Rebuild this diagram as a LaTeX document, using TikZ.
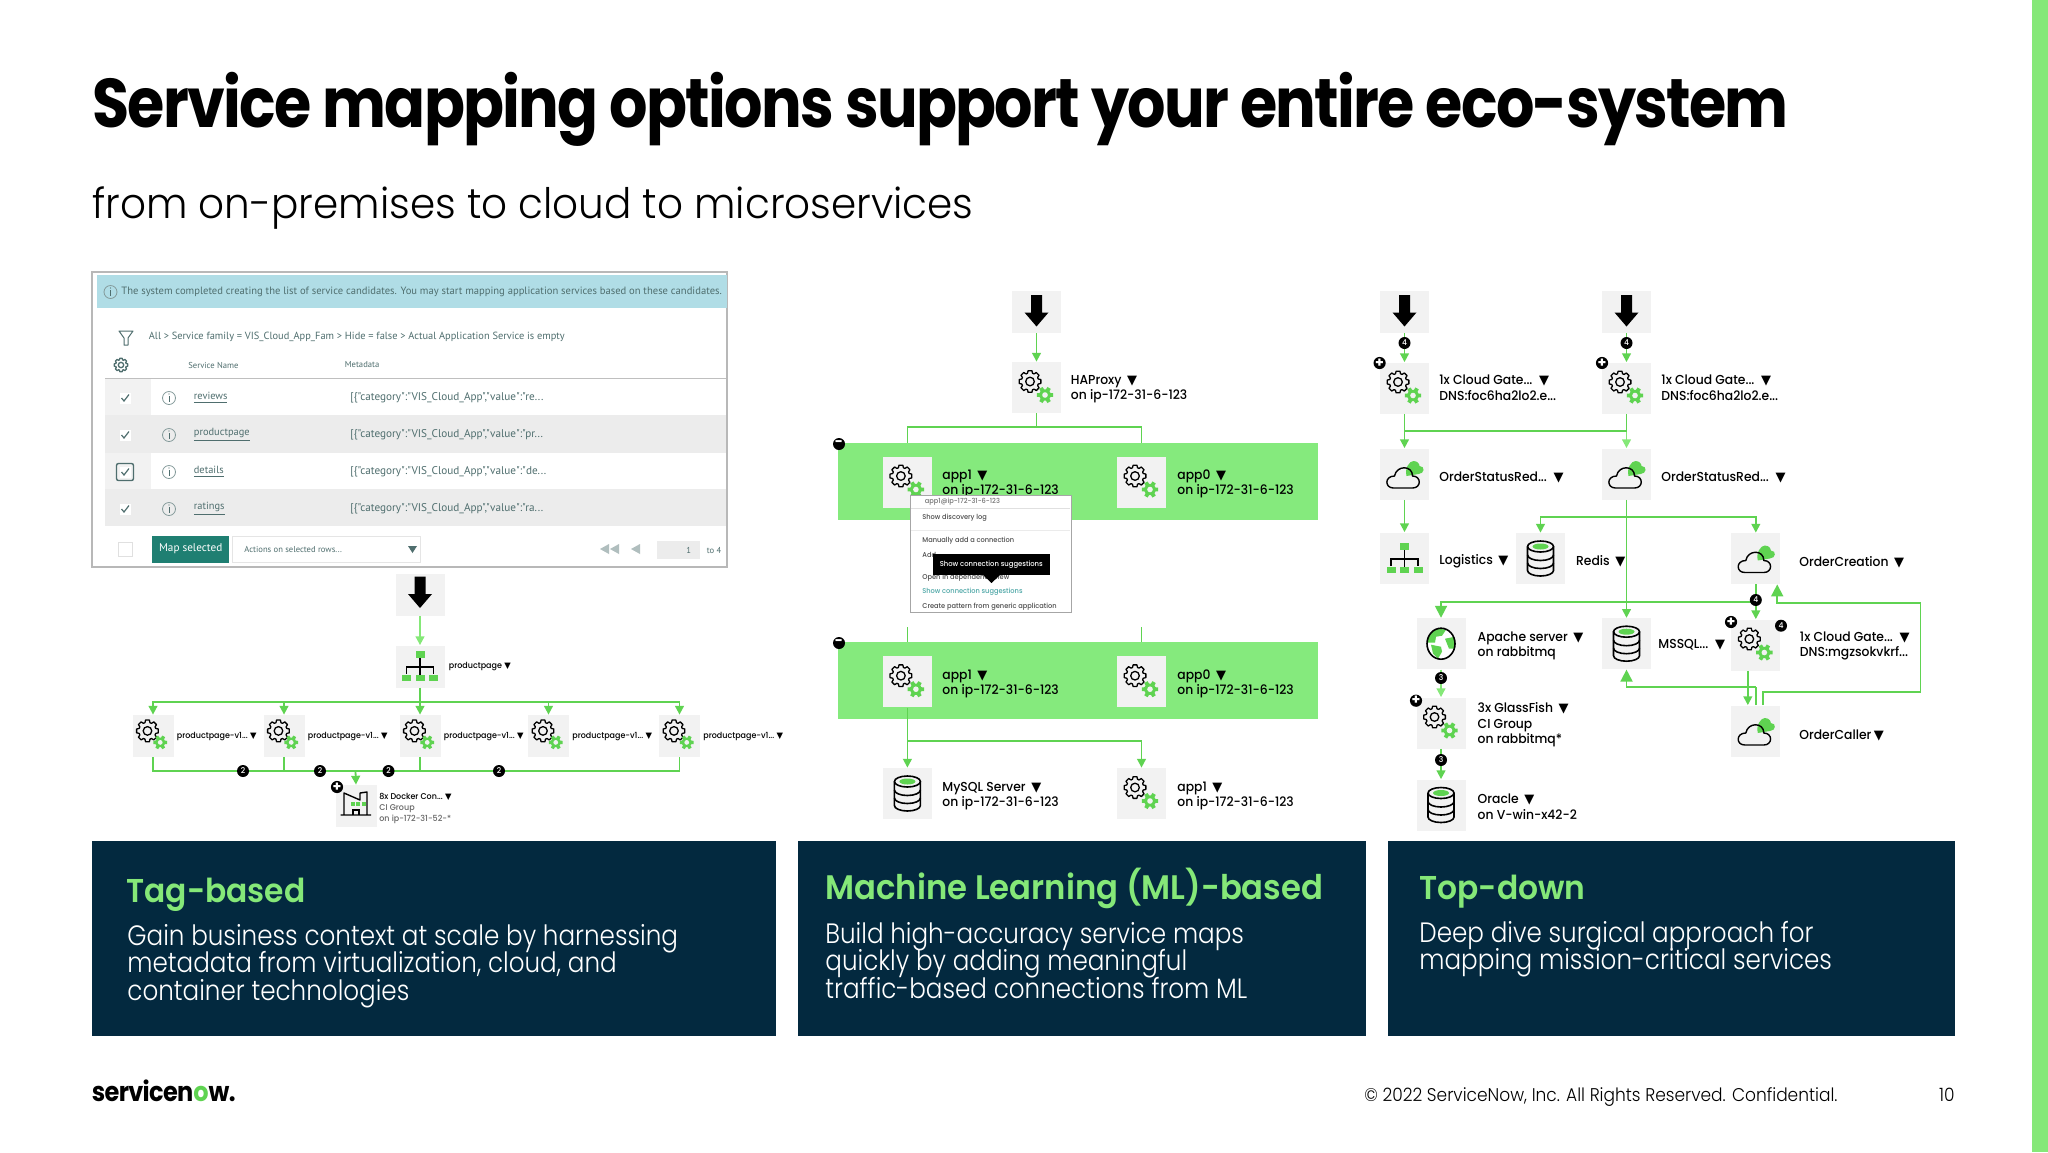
\documentclass[tikz,border=0pt]{standalone}
\usepackage{fontspec}
\setmainfont{Poppins}
\newfontfamily\headfont[FakeStretch=0.875,LetterSpace=-2.5]{Poppins}
\newfontfamily\logofont[FakeStretch=0.89,LetterSpace=-2.5]{Poppins}
\newfontfamily\panelfont[FakeStretch=0.95]{Poppins SemiBold}
\newfontfamily\subfont[FakeStretch=0.965]{Poppins Light}
\newfontfamily\bodyfont[FakeStretch=0.88]{Poppins Light}
\newfontfamily\footfont[FakeStretch=0.925]{Poppins Light}
\newfontfamily\labelfont[FakeStretch=0.95]{Poppins Medium}
\newfontfamily\shotfont{PT Sans}
\newfontfamily\symfont{DejaVu Sans}
\usetikzlibrary{arrows.meta}
\lineskiplimit=-100pt
\definecolor{linkgreen}{HTML}{5FD351}
\definecolor{linkpale}{HTML}{85E878}
\definecolor{bandgreen}{HTML}{85EA7D}
\definecolor{boxgray}{HTML}{F2F2F2}
\definecolor{navy}{HTML}{03293F}
\definecolor{shotink}{HTML}{4F6E6E}
\definecolor{rowgray}{HTML}{ECECEC}
\definecolor{bannerblue}{HTML}{B0DDE6}
\definecolor{mapteal}{HTML}{1F7F72}
\newcommand{\dropmark}{\kern1.2pt{\symfont ▼}}
\newcommand{\labsize}{\fontsize{6.5}{7.8}\selectfont}
\newcommand{\tinysize}{\fontsize{4.2}{5.4}\selectfont}
\newcommand{\shotsize}{\fontsize{4.3}{5}\selectfont}
\tikzset{
  iconbox/.style={fill=boxgray, inner sep=0, minimum width=24.5pt, minimum height=25.5pt},
  arrowbox/.style={iconbox, minimum height=21pt},
  treebox/.style={iconbox, minimum width=20.5pt, minimum height=21pt},
  groupband/.style={fill=bandgreen, inner sep=0, minimum width=240pt, minimum height=38.5pt},
  navypanel/.style={fill=navy, inner sep=0, anchor=north west, minimum height=97.5pt},
  lab/.style={anchor=west, inner sep=0, align=left, font=\labelfont\labsize},
  tinylab/.style={anchor=west, inner sep=0, align=left, font=\labelfont\tinysize},
  shottext/.style={anchor=west, inner sep=0, text=shotink, font=\shotfont\shotsize},
  popuptext/.style={anchor=west, inner sep=0, text=black!70, font=\labelfont\fontsize{3.5}{5}\selectfont},
  paneltitle/.style={anchor=base west, inner sep=0, text=linkpale, font=\panelfont\fontsize{17}{20}\selectfont},
  panelbody/.style={anchor=west, inner sep=0, align=left, text=white, font=\bodyfont\fontsize{14}{13.75}\selectfont},
  numbadge/.style={circle, fill=black, text=white, inner sep=0, minimum size=6pt, font=\labelfont\fontsize{4}{4}\selectfont},
  link/.style={draw=linkgreen, line width=0.9pt},
  linkarrow/.style={link, -{Triangle[width=4.4pt,length=4.4pt]}},
  bigarrow/.style={link, -{Triangle[width=6pt,length=6pt]}},
  pics/cogline/.style={code={
    \draw[line width=.65pt, line join=round] (-17:8.6)
      \foreach \a in {0,45,...,315} { -- (\a-17:8.6) -- (\a-10:11) -- (\a+10:11) -- (\a+17:8.6) } -- cycle;
    \draw[line width=.65pt] (0,0) circle (4.3);
  }},
  pics/gears/.style={code={
    \pic at (-6.5,-6) {cogline};
    \begin{scope}[shift={(8.5,7.5)}]
      \fill[linkgreen] (-20:5.8)
        \foreach \a in {0,60,...,300} { -- (\a-20:5.8) -- (\a-13:8.4) -- (\a+13:8.4) -- (\a+20:5.8) } -- cycle;
      \fill[boxgray] (0,0) circle (2.8);
    \end{scope}
  }},
  pics/downarrow/.style={code={
    \fill[black] (-5.5,-16.5) -- (5.5,-16.5) -- (5.5,1) -- (12,1) -- (0,15) -- (-12,1) -- (-5.5,1) -- cycle;
  }},
  pics/cloudicon/.style={code={
    \fill[linkgreen] (2,2) .. controls (0,-6) and (5,-13) .. (9,-13) .. controls (14,-13) and (15,-9) .. (15,-8)
      .. controls (21,-8) and (20,0) .. (14,0) -- cycle;
    \draw[line width=.7pt, line join=round] (-11,14) .. controls (-20,14) and (-20,2) .. (-10,2)
      .. controls (-8,-9) and (8,-9) .. (8,2) .. controls (17,2) and (17,14) .. (8,14) -- cycle;
  }},
  pics/dbicon/.style={code={
    \draw[line width=.8pt] (-13,-12) -- (-13,12) arc[start angle=180, end angle=0, x radius=13, y radius=5.5] -- (13,-12);
    \draw[line width=.8pt] (0,-12) ellipse (13 and 5.5);
    \draw[line width=.8pt] (-13,-3.5) arc[start angle=180, end angle=0, x radius=13, y radius=5.5];
    \draw[line width=.8pt] (-13,4.5) arc[start angle=180, end angle=0, x radius=13, y radius=5.5];
    \fill[linkgreen] (0,-12) ellipse (8 and 3);
  }},
  pics/hierarchy/.style={code={
    \draw[line width=.7pt] (0,-8) -- (0,10) (-13.5,8) |- (13.5,1) -- (13.5,8);
    \foreach \p/\q in {0/-11.5,-13.5/12,0/12,13.5/12}
      \fill[linkgreen] (\p-4.5,\q-3.3) rectangle (\p+4.5,\q+3.3);
  }},
  pics/globe/.style={code={
    \fill[white] (0,0) ellipse (14 and 15.5);
    \begin{scope}
      \clip (0,0) ellipse (14 and 15.5);
      \fill[linkgreen] (-14,-10) -- (-3,-15) -- (5,-14) -- (1,-8) -- (-5,-7) -- (-6,-1) -- (-14,-1) -- cycle;
      \fill[linkgreen] (-10,1) -- (0,3) -- (1,8) -- (-3,15) -- (-8,10) -- cycle;
      \fill[linkgreen] (4,-5) -- (14,-7) -- (14,5) -- (8,5) -- cycle;
    \end{scope}
    \draw[line width=.8pt] (0,0) ellipse (14 and 15.5);
  }},
  pics/factory/.style={code={
    \draw[line width=.7pt, line join=round] (-15.5,9) -- (15,9) (-12,9) -- (-12,-13) -- (4,-6) -- (4,-13) -- (11,-14) -- (11,9);
    \draw[line width=.7pt] (-3,9) -- (-3,4) -- (3,4) -- (3,9);
    \foreach \p in {-3.5,2,7.5}
      \fill[linkgreen] (\p-2,-4.5) rectangle (\p+2,-.5);
  }},
  pics/tickbox/.style={code={
    \fill[white] (-5.5,-5.5) rectangle (5.5,5.5);
    \draw[shotink, line width=.6pt] (-3.5,0) -- (-1,3) -- (4,-3.5);
  }},
  pics/infomark/.style={code={
    \draw[shotink!70, line width=.4pt] (0,0) circle (6.5);
    \draw[shotink, line width=.5pt] (0,-2) -- (0,3.5);
    \fill[shotink] (0,-4) circle (.7);
  }},
}

\begin{document}
\begin{tikzpicture}[x=0.5pt, y=-0.5pt]
  \useasboundingbox (0,0) rectangle (2048,1152);

  % side stripe
  \fill[linkpale] (2032,0) rectangle (2048,1152);

  % headings
  \node[anchor=base west, inner sep=0, font=\headfont\bfseries\fontsize{34.5}{40}\selectfont] (title) at (92,127)
    {Service mapping options support your entire eco-system};
  \node[anchor=base west, inner sep=0, font=\subfont\fontsize{21}{24}\selectfont] (subtitle) at (92,218)
    {from on-premises to cloud to microservices};

  % screenshot frame
  \fill[white] (92,272) rectangle (727,567);
  \fill[rowgray] (105,415) rectangle (727,453);
  \fill[rowgray] (105,489) rectangle (727,526);
  \fill[rowgray!70!white] (105,378) rectangle (151,526);
  \fill[rowgray] (105,415) rectangle (151,453);
  \fill[rowgray] (105,489) rectangle (151,526);
  \draw[black!25, line width=.4pt] (105,378) -- (727,378);
  \draw[black!28, line width=.7pt] (92,272) rectangle (727,567);
  % banner
  \fill[bannerblue] (96.5,275) rectangle (727,308);
  \pic at (110.5,292) {infomark};
  \node[shottext, font=\shotfont\fontsize{5.3}{6}\selectfont] (bannertext) at (121,292)
    {The system completed creating the list of service candidates. You may start mapping application services based on these candidates.};
  % filter line
  \draw[shotink, line width=.5pt, line join=round] (119,331) -- (133,331) -- (128,338) -- (128,345) -- (124,345) -- (124,338) -- cycle;
  \node[shottext, font=\shotfont\fontsize{5.2}{6}\selectfont] (filtertext) at (148.5,337)
    {All > Service family = VIS\_Cloud\_App\_Fam > Hide = false > Actual Application Service is empty};
  \pic[scale=.62, color=shotink] at (121,365) {cogline};
  \node[shottext] (namehead) at (188,365) {Service Name};
  \node[shottext] (metahead) at (344.5,365) {Metadata};
  % rows
  \foreach \y/\name/\meta in {398/reviews/re,435/productpage/pr,472/details/de,509/ratings/ra} {
    \pic at (125,\y) {tickbox};
    \pic at (169,\y) {infomark};
    \node[shottext, font=\shotfont\fontsize{5.2}{6}\selectfont] (row\name) at (193.5,\y) {\underline{\name}};
    \node[shottext, font=\shotfont\fontsize{5.6}{6}\selectfont] (meta\name) at (350,\y) {[\{"category":"VIS\_Cloud\_App","value":"\meta...};
  }
  \draw[shotink, line width=.7pt, rounded corners=1pt] (116.5,463.5) rectangle (133.5,480.5);
  % bottom controls
  \fill[white] (118,542) rectangle (132,556);
  \draw[black!12, line width=.4pt] (118,542) rectangle (132,556);
  \node[fill=mapteal, text=white, inner sep=0, minimum width=38.3pt, minimum height=13.5pt, font=\shotfont\fontsize{5.6}{6}\selectfont] (mapbutton) at (190.7,549) {Map selected};
  \draw[black!10, line width=.4pt] (232.6,536) rectangle (420,562);
  \node[shottext] (selecttext) at (244,549) {Actions on selected rows...};
  \fill[shotink] (408,546) -- (417,546) -- (412.5,553) -- cycle;
  \fill[shotink!45] (600,549) -- (609,544) -- (609,554) -- cycle (610,549) -- (619,544) -- (619,554) -- cycle (631,549) -- (640,544) -- (640,554) -- cycle;
  \fill[rowgray] (657,541) rectangle (700,559);
  \node[shottext] (pagenum) at (686,550) {1};
  \node[shottext] (pagetotal) at (706.5,550) {to 4};

  % tag-based tree
  \node[arrowbox, minimum width=24.5pt] (arrowl) at (420,594.5) {};
  \pic at (420,593) {downarrow};
  \node[treebox, minimum width=24.5pt] (rootl) at (420,666.5) {};
  \pic at (420,666) {hierarchy};
  \node[tinylab] (rootlab) at (448.5,667) {productpage\dropmark};
  \draw[linkarrow, draw=linkpale] (arrowl.south) -- (rootl.north);
  \coordinate (rootfork) at (420,702);
  \coordinate (dockbus) at (355.5,771);
  \draw[link] (rootl.south) -- (rootfork);
  \foreach \c/\x in {a/153,b/284,c/420,d/548.5,e/679.5} {
    \node[treebox] (svc\c) at (\x,736) {};
    \pic[scale=.85] at (\x,736) {gears};
    \node[tinylab] (svclab\c) at (\x+23.5,737) {productpage-v1...\dropmark};
    \draw[linkarrow] (rootfork) -| (svc\c.north);
  }
  \foreach \c in {a,b,c,e}
    \draw[link] (svc\c.south) |- (dockbus);
  \node[treebox] (docker) at (356,806) {};
  \pic at (356,806) {factory};
  \draw[linkarrow] (dockbus) -- (docker.north);
  \node[tinylab] (dockerlab) at (379,808) {8x Docker Con...\dropmark\\[.1pt]\textcolor{black!60}{CI Group}\\[.1pt]\textcolor{black!60}{on ip-172-31-52-*}};
  \foreach \i/\x in {1/243,2/320,3/388.5,4/499}
    \node[numbadge] (countl\i) at (\x,771) {2};
  \node[numbadge, font=\bfseries\fontsize{7}{7}\selectfont] (plusl) at (337,787) {+};

  % machine learning tree
  \node[groupband] (banda) at (1078,481.5) {};
  \node[groupband] (bandb) at (1078,680.6) {};
  \node[arrowbox] (arrowm) at (1036.5,312) {};
  \pic at (1036.5,311.5) {downarrow};
  \node[iconbox] (haproxy) at (1036.5,387.5) {};
  \pic at (haproxy) {gears};
  \node[lab] (haproxylab) at (1070.5,389) {HAProxy \dropmark\\on ip-172-31-6-123};
  \draw[linkarrow] (arrowm.south) -- (haproxy.north);
  \node[iconbox] (appa) at (907.4,482) {};
  \pic at (appa) {gears};
  \node[lab] (appalab) at (942,484) {app1 \dropmark\\on ip-172-31-6-123};
  \node[iconbox] (appb) at (1141.5,482) {};
  \pic at (appb) {gears};
  \node[lab] (appblab) at (1177,484) {app0 \dropmark\\on ip-172-31-6-123};
  \coordinate (hafork) at (1036.5,426.7);
  \draw[link] (haproxy.south) -- (hafork);
  \draw[link] (appa |- banda.north) |- (hafork) -| (appb |- banda.north);
  % context menu
  \node[fill=white, draw=black!35, line width=.5pt, inner sep=0, anchor=north west, minimum width=80.3pt, minimum height=58.6pt] (popup) at (910,494.7) {};
  \node[popuptext, text=black!55] (popupa) at (924.5,501.7) {app1@ip-172-31-6-123};
  \draw[black!12, line width=.4pt] (911,508) -- (1070,508);
  \node[popuptext] (popupb) at (922,517.7) {Show discovery log};
  \draw[black!8, line width=.4pt] (911,530) -- (1070,530);
  \node[popuptext] (popupc) at (922,540.7) {Manually add a connection};
  \node[popuptext] (popupd) at (922,555) {Add};
  \node[popuptext] (popupe) at (922,577.5) {Open in dependency view};
  \node[popuptext, text=teal!70] (popupf) at (922,592) {Show connection suggestions};
  \node[popuptext] (popupg) at (922,607) {Create pattern from generic application};
  \node[fill=black, text=white, inner sep=0, minimum width=58.2pt, minimum height=10.5pt, font=\labelfont\fontsize{3.6}{5}\selectfont] (tooltip) at (991.3,564.5) {Show connection suggestions};
  \fill[black] (983,575) -- (1000,575) -- (991.5,583) -- cycle;
  % second group
  \node[iconbox] (appc) at (907.4,681.7) {};
  \pic at (appc) {gears};
  \node[lab] (appclab) at (942,684) {app1 \dropmark\\on ip-172-31-6-123};
  \node[iconbox] (appd) at (1141.5,681.7) {};
  \pic at (appd) {gears};
  \node[lab] (appdlab) at (1177,684) {app0 \dropmark\\on ip-172-31-6-123};
  \draw[link] (appc |- bandb.north) -- ++(0,-14.5);
  \draw[link] (appd |- bandb.north) -- ++(0,-14.5);
  \node[iconbox] (mysql) at (907.4,793.5) {};
  \pic at (mysql) {dbicon};
  \node[lab] (mysqllab) at (942,796) {MySQL Server \dropmark\\on ip-172-31-6-123};
  \node[iconbox] (appe) at (1141.5,793.5) {};
  \pic at (appe) {gears};
  \node[lab] (appelab) at (1177,796) {app1 \dropmark\\on ip-172-31-6-123};
  \coordinate (mlfork) at (907.4,740.7);
  \draw[linkarrow] (appc.south) -- (mysql.north);
  \draw[linkarrow] (mlfork) -| (appe.north);
  \foreach \n/\y in {a/444,b/643}
    \node[numbadge, font=\bfseries\fontsize{7}{7}\selectfont] (minus\n) at (839,\y) {\raisebox{.5pt}{-}};

  % top-down tree
  \node[arrowbox] (arrowr) at (1404.5,312) {};
  \pic at (1404.5,311.5) {downarrow};
  \node[arrowbox] (arrows) at (1626.5,312) {};
  \pic at (1626.5,311.5) {downarrow};
  \node[iconbox] (gatea) at (1404.5,388) {};
  \pic at (gatea) {gears};
  \node[lab] (gatealab) at (1439,388) {1x Cloud Gate... \dropmark\\DNS:foc6ha2lo2.e...};
  \node[iconbox] (gateb) at (1626.5,388) {};
  \pic at (gateb) {gears};
  \node[lab] (gateblab) at (1661,388) {1x Cloud Gate... \dropmark\\DNS:foc6ha2lo2.e...};
  \node[iconbox] (cloa) at (1404.5,474) {};
  \pic at (cloa) {cloudicon};
  \node[lab] (cloalab) at (1439,477) {OrderStatusRed... \dropmark};
  \node[iconbox] (clob) at (1626.5,474) {};
  \pic at (clob) {cloudicon};
  \node[lab] (cloblab) at (1661,477) {OrderStatusRed... \dropmark};
  \node[iconbox] (logi) at (1404.5,558) {};
  \pic at (logi) {hierarchy};
  \node[lab] (logilab) at (1439,561) {Logistics \dropmark};
  \node[iconbox] (redis) at (1540.5,558.5) {};
  \pic at (redis) {dbicon};
  \node[lab] (redislab) at (1575.7,561) {Redis \dropmark};
  \node[iconbox] (ocre) at (1755.8,558.5) {};
  \pic at (ocre) {cloudicon};
  \node[lab] (ocrelab) at (1799,562.7) {OrderCreation \dropmark};
  \node[iconbox] (apache) at (1441,643.7) {};
  \pic at (apache) {globe};
  \node[lab] (apachelab) at (1477.3,646) {Apache server \dropmark\\on rabbitmq};
  \node[iconbox] (mssql) at (1626.5,643.7) {};
  \pic at (mssql) {dbicon};
  \node[lab] (mssqllab) at (1658,645) {MSSQL... \dropmark};
  \node[iconbox] (gatec) at (1755.8,645) {};
  \pic at (gatec) {gears};
  \node[lab] (gateclab) at (1799.5,646) {1x Cloud Gate... \dropmark\\DNS:mgzsokvkrf...};
  \node[iconbox] (glass) at (1441,723) {};
  \pic at (glass) {gears};
  \node[lab] (glasslab) at (1477.3,725) {3x GlassFish \dropmark\\CI Group\\on rabbitmq*};
  \node[iconbox] (ocall) at (1755.8,731) {};
  \pic at (ocall) {cloudicon};
  \node[lab] (ocalllab) at (1799,735.7) {OrderCaller\dropmark};
  \node[iconbox] (oracle) at (1441,805) {};
  \pic at (oracle) {dbicon};
  \node[lab] (oraclelab) at (1477.3,807) {Oracle \dropmark\\on V-win-x42-2};
  % top-down connectors
  \draw[linkarrow] (arrowr.south) -- (gatea.north);
  \draw[linkarrow] (arrows.south) -- (gateb.north);
  \draw[linkarrow] (gatea.south) -- (cloa.north);
  \coordinate (gateforka) at (1404.5,431);
  \coordinate (gateforkb) at (1626.5,431);
  \draw[link] (gateb.south) -- (gateforkb);
  \draw[linkarrow, draw=linkpale] (gateforkb) -- (clob.north);
  \draw[link] (gateforka) -- (gateforkb);
  \draw[linkarrow] (cloa.south) -- (logi.north);
  \draw[linkarrow] (clob.south) -- (mssql.north);
  \coordinate (clobfork) at (1626.5,516.7);
  \draw[linkarrow] (clobfork) -| (redis.north);
  \draw[linkarrow] (clobfork) -| (ocre.north);
  \draw[linkarrow] (ocre.south) -- (gatec.north);
  \coordinate (apachefork) at (1755.8,602.3);
  \draw[bigarrow] (apachefork) -| (apache.north);
  \draw[linkarrow, draw=linkpale] (apache.south) -- (glass.north);
  \draw[linkarrow] (glass.south) -- (oracle.north);
  \draw[linkarrow] ([xshift=-4pt]gatec.south) -- ([xshift=-4pt]ocall.north);
  \coordinate (backfork) at (1755.8,687.3);
  \draw[link] (ocall.north) -- (backfork);
  \draw[bigarrow] (backfork) -| (mssql.south);
  \coordinate (loopa) at (1920.5,692);
  \coordinate (loopb) at (1920.5,603.3);
  \draw[bigarrow] ([xshift=3.5pt]ocall.north) |- (loopa) -- (loopb) -| ([xshift=10.7pt]ocre.south);
  % top-down badges
  \foreach \n/\x/\y/\t in {a/1404.5/343/4,b/1626.5/343/4,c/1755.8/600/4,d/1781/625.7/4,e/1441/678/3,f/1441/760/3}
    \node[numbadge] (countr\n) at (\x,\y) {\t};
  \foreach \n/\x/\y in {a/1379.6/363,b/1602/363,c/1731/622,d/1416/700.7}
    \node[numbadge, font=\bfseries\fontsize{7}{7}\selectfont] (plusr\n) at (\x,\y) {+};

  % caption panels
  \node[navypanel, minimum width=342.2pt] (tagpanel) at (91.5,841) {};
  \node[navypanel, minimum width=284pt] (mlpanel) at (798,841) {};
  \node[navypanel, minimum width=283.5pt] (toppanel) at (1388,841) {};
  \node[paneltitle, font=\panelfont\fontsize{16.5}{20}\selectfont] (tagtitle) at (126,902) {Tag-based};
  \node[panelbody] (tagbody) at (127,966) {Gain business context at scale by harnessing\\metadata from virtualization, cloud, and\\container technologies};
  \node[paneltitle] (mltitle) at (825,899) {Machine Learning (ML)-based};
  \node[panelbody] (mlbody) at (825,960.5) {Build high-accuracy service maps\\quickly by adding meaningful\\traffic-based connections from ML};
  \node[paneltitle, font=\panelfont\fontsize{16.5}{20}\selectfont] (toptitle) at (1419,899) {Top-down};
  \node[panelbody] (topbody) at (1419,949) {Deep dive surgical approach for\\mapping mission-critical services};

  % footer
  \node[anchor=base west, inner sep=0, font=\logofont\bfseries\fontsize{13.5}{14}\selectfont] (logo) at (91.5,1101) {servicen\textcolor{linkgreen}{o}w.};
  \node[anchor=base west, inner sep=0, font=\footfont\fontsize{9.2}{11}\selectfont] (copyright) at (1364,1101.7) {© 2022 ServiceNow, Inc. All Rights Reserved. Confidential.};
  \node[anchor=base east, inner sep=0, font=\footfont\fontsize{9.2}{11}\selectfont] (pagenumber) at (1955,1101.7) {10};

\end{tikzpicture}
\end{document}
